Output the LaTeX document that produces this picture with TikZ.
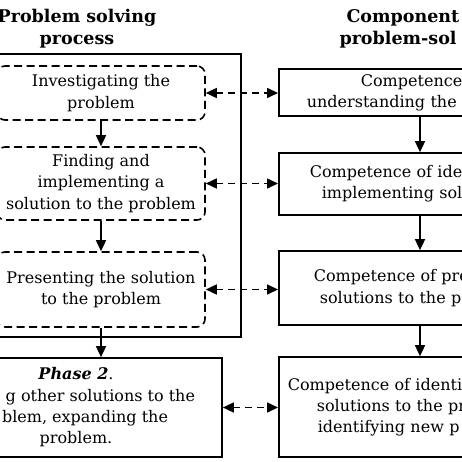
\documentclass[tikz,border=0pt]{standalone}
\usepackage{fontspec}
\setmainfont{DejaVu Serif}
\usetikzlibrary{arrows.meta}

\tikzset{
  txt/.style={font=\fontsize{16}{21.3}\selectfont},
  ttl/.style={font=\fontsize{17.5}{21.5}\selectfont\bfseries},
  dbox/.style={txt, draw, line width=1.6pt, dash pattern=on 8pt off 4.5pt, rounded corners=8pt,
    minimum width=208pt, align=center, inner sep=0pt},
  sbox/.style={txt, draw, line width=1.7pt, anchor=west, text width=200pt, align=left,
    inner xsep=0pt, inner ysep=0pt},
  arr/.style={line width=1.6pt, -{Triangle[length=11pt,width=10pt]}},
  darr/.style={line width=1.6pt, dash pattern=on 7pt off 5pt,
    {Triangle[length=11pt,width=10pt]}-{Triangle[length=11pt,width=10pt]}}
}

\begin{document}
\begin{tikzpicture}[x=1pt,y=-1pt]
\useasboundingbox (0,0) rectangle (462,462);
\clip (0,0) rectangle (462,462);

% titles
\node[ttl, align=center, anchor=north] (ttlproc) at (77,6) {Problem solving\\process};
\node[ttl, align=left, anchor=north west] (ttlcomp) at (336,6) {\hspace*{7pt}Component\\problem-sol};

% left column
\draw[line width=1.7pt] (-20,54) rectangle (241,337);
\node[dbox, minimum height=54pt] (inv) at (101,93) {Investigating the\\problem};
\node[dbox, minimum height=73pt] (find) at (101,183.5) {Finding and\\implementing a\\solution to the problem};
\node[dbox, minimum height=75pt] (pres) at (101,289.5) {Presenting the solution\\to the problem};
\node[txt, draw, line width=1.7pt, minimum width=292pt, minimum height=99pt, align=center, inner sep=0pt] (ph2) at (76,407.5)
  {\textbf{\textit{Phase 2}}.\\\makebox[238pt][r]{g other solutions to the}\\\makebox[184pt][r]{blem, expanding the}\\problem.};

% right column
\node[sbox, minimum height=47pt] (cund) at (278,92.5) {\hspace*{82pt}Competence\\\hspace*{28pt}understanding the};
\node[sbox, minimum height=62pt] (cimp) at (278,184) {\hspace*{31pt}Competence of iden\\\hspace*{43pt}implementing sol};
\node[sbox, minimum height=74pt] (cpre) at (278,288) {\hspace*{35pt}Competence of pre\\\hspace*{41pt}solutions to the p};
\node[sbox, minimum height=100pt] (cnew) at (278,407) {\hspace*{9pt}Competence of identi\\\hspace*{38pt}solutions to the pr\\\hspace*{39pt}identifying new p};

% arrows
\draw[arr] (inv) -- (find);
\draw[arr] (find) -- (pres);
\draw[arr] (pres.south) -- (pres.south |- ph2.north);
\draw[arr] ([xshift=142pt]cund.south west) -- ([xshift=142pt]cimp.north west);
\draw[arr] ([xshift=142pt]cimp.south west) -- ([xshift=142pt]cpre.north west);
\draw[arr] ([xshift=142pt]cpre.south west) -- ([xshift=142pt]cnew.north west);

\draw[darr] (inv.east) -- (inv.east -| cund.west);
\draw[darr] (find.east) -- (find.east -| cimp.west);
\draw[darr] (pres.east) -- (pres.east -| cpre.west);
\draw[darr] (ph2.east) -- (ph2.east -| cnew.west);
\end{tikzpicture}
\end{document}
